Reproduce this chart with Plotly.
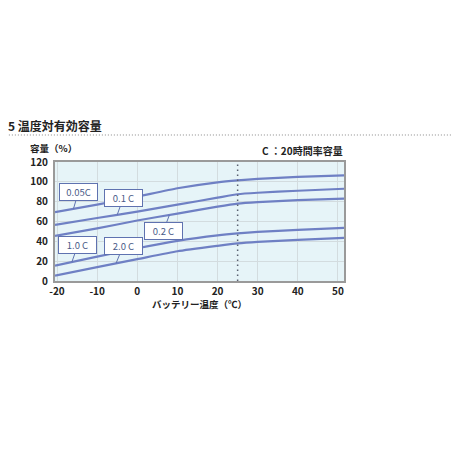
import numpy as np
import plotly.graph_objects as go

# battery temperature (deg C) and effective capacity (%) per discharge rate
temps = [-20.5, -10, 0, 10, 20, 25, 30, 40, 51.5]
cap_005c = [69.5, 77, 85, 93.5, 99.5, 101.5, 103, 105, 106.5]
cap_01c = [56.5, 63.5, 70, 77, 84, 87.5, 89, 91, 93]
cap_02c = [45.5, 53, 61, 68, 75, 78, 79.5, 81.5, 83]
cap_10c = [15.5, 24.5, 33, 40.5, 46, 48, 49.5, 51.5, 53.5]
cap_20c = [5.5, 14, 22, 30, 35.5, 38, 39.5, 41.5, 43.5]

series = [
    ("0.05C", cap_005c, -15.9, 5, -17),
    ("0.1 C", cap_01c, -5.0, 6, -17),
    ("0.2 C", cap_02c, 8.0, -6, 16),
    ("1.0 C", cap_10c, -16.3, 6, -17),
    ("2.0 C", cap_20c, -5.3, 7, -17),
]
ref_temp = 25

line_col = '#6f80c4'
font = "Noto Sans CJK JP"

fig = go.Figure()
for name, vals, lx, ax, ay in series:
    fig.add_trace(go.Scatter(x=temps, y=vals, mode='lines', name=name,
                             line=dict(color=line_col, width=2.2, shape='spline', smoothing=0.5),
                             showlegend=False, hoverinfo='skip'))
    fig.add_annotation(x=lx, y=float(np.interp(lx, temps, vals)), text=name,
                       showarrow=True, arrowhead=0, arrowwidth=1, arrowcolor='#5f72b0',
                       ax=ax, ay=ay, bgcolor='white', bordercolor='#5f72b0', borderwidth=1,
                       borderpad=1, width=35,
                       font=dict(family=font, size=9.5, color='#4a5a88'))

fig.add_shape(type='line', x0=ref_temp, x1=ref_temp, y0=0, y1=1, xref='x', yref='paper',
              line=dict(color='#5a6070', width=1.5, dash='1.5px,3.5px'))

# header with dotted rule
fig.add_shape(type='line', x0=-0.17, x1=1.42, y0=1.227, y1=1.227, xref='paper', yref='paper',
              line=dict(color='#888888', width=1, dash='1px,2px'))
fig.add_annotation(x=-0.17, y=1.303, xref='paper', yref='paper', xanchor='left', yanchor='middle',
                   text='<b>5 温度対有効容量</b>', showarrow=False,
                   font=dict(family=font, size=12, color='#222222'))
fig.add_annotation(x=-0.093, y=1.115, xref='paper', yref='paper', xanchor='left', yanchor='middle',
                   text='<b>容量（%）</b>', showarrow=False,
                   font=dict(family=font, size=9.5, color='#222222'))
fig.add_annotation(x=1.003, y=1.10, xref='paper', yref='paper', xanchor='right', yanchor='middle',
                   text='<b>C ：20時間率容量</b>', showarrow=False,
                   font=dict(family=font, size=10, color='#222222'))
fig.add_annotation(x=0.5, y=-0.195, xref='paper', yref='paper', xanchor='center', yanchor='middle',
                   text='<b>バッテリー温度（℃）</b>', showarrow=False,
                   font=dict(family=font, size=9.5, color='#222222'))

fig.update_layout(
    width=452, height=452,
    margin=dict(l=47, r=116, t=154, b=179),
    paper_bgcolor='white', plot_bgcolor='#e6f4f8',
    font=dict(family=font, size=10, color='#222222'),
    xaxis=dict(range=[-20.5, 51.5], tickvals=[-20, -10, 0, 10, 20, 30, 40, 50],
               ticktext=['<b>%d</b>' % t for t in [-20, -10, 0, 10, 20, 30, 40, 50]],
               showgrid=True, gridcolor='#d3dcdf', gridwidth=1, zeroline=False,
               showline=True, mirror=True, linecolor='#9a9a9a', linewidth=2,
               ticks='', ticklabelstandoff=0),
    yaxis=dict(range=[0, 120], tickvals=[0, 20, 40, 60, 80, 100, 120],
               ticktext=['<b>%d</b>' % t for t in [0, 20, 40, 60, 80, 100, 120]],
               showgrid=True, gridcolor='#d3dcdf', gridwidth=1, zeroline=False,
               showline=True, mirror=True, linecolor='#9a9a9a', linewidth=2,
               ticks='', ticklabelstandoff=3),
)

fig.write_html("out.html")
